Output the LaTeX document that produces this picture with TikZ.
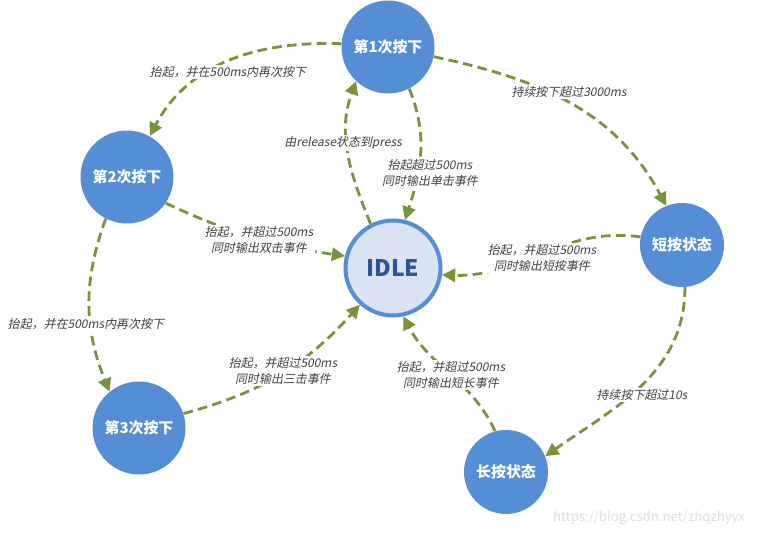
\documentclass[tikz,border=0pt]{standalone}
\usepackage{fontspec}
\setmainfont{Noto Sans CJK SC}[AutoFakeSlant=0.2]
\usetikzlibrary{arrows.meta}
\definecolor{stblue}{RGB}{85,142,213}
\definecolor{idlefill}{RGB}{218,227,243}
\definecolor{idletext}{RGB}{47,85,151}
\definecolor{trgreen}{RGB}{119,147,60}
\definecolor{lblgray}{RGB}{64,64,64}
\tikzset{
  state/.style  = {circle, fill=stblue, text=white, minimum size=1.86cm,
                   inner sep=0pt, font=\fontsize{8.5}{10}\selectfont\bfseries},
  sstate/.style = {state, minimum size=1.68cm},
  idle/.style   = {circle, draw=stblue, line width=2.3pt, fill=idlefill,
                   minimum size=1.9cm, inner sep=0pt, text=idletext,
                   font=\fontsize{13}{15}\selectfont\bfseries},
  tr/.style     = {draw=trgreen, line width=1.6pt, dash pattern=on 5.5pt off 3pt,
                   -{Triangle[length=7.5pt,width=7.5pt]}},
  lbl/.style    = {fill=white, text=lblgray, inner sep=1pt, align=center,
                   font=\fontsize{6.8}{9}\selectfont\itshape}
}

\begin{document}
\begin{tikzpicture}[x=0.02cm,y=0.02cm]
  \useasboundingbox (0,0) rectangle (764,537);
  % states
  \node[state]  (p1)   at (388,490) {第1次按下};
  \node[state]  (p2)   at (127,360) {第2次按下};
  \node[state]  (p3)   at (139,109) {第3次按下};
  \node[idle]   (idle) at (393,269) {IDLE};
  \node[sstate] (sp)   at (682,292) {短按状态};
  \node[sstate] (lp)   at (506,65)  {长按状态};
  % transitions
  \draw[tr] (p1.176)  to[out=178,in=62]  (p2.61);
  \draw[tr] (p2.243)  to[out=250,in=112] (p3.129);
  \draw[tr] (p2.-34)  to[out=-25,in=172] (idle.166);
  \draw[tr] (p3.18)   to[out=15,in=228]  (idle.228);
  \draw[tr] (idle.117) to[out=112,in=250] (p1.227);
  \draw[tr] (p1.-63)  to[out=-68,in=72]  (idle.76);
  \draw[tr] (p1.-12)  to[out=-12,in=118] (sp.112);
  \draw[tr] (sp.169)  to[out=172,in=-2]  (idle.-8);
  \draw[tr] (sp.-86)  to[out=-90,in=35]  (lp.22);
  \draw[tr] (lp.105)  to[out=115,in=-62] (idle.-78);
  % labels
  \node[lbl] (l12)  at (228,465) {抬起，并在500ms内再次按下};
  \node[lbl] (l23)  at (86,213)  {抬起，并在500ms内再次按下};
  \node[lbl] (l2i)  at (259,297) {抬起，并超过500ms\\同时输出双击事件};
  \node[lbl] (l3i)  at (283,166) {抬起，并超过500ms\\同时输出三击事件};
  \node[lbl] (li1)  at (343,394) {由release状态到press};
  \node[lbl] (l1i)  at (430,364) {抬起超过500ms\\同时输出单击事件};
  \node[lbl] (l1s)  at (569,445) {持续按下超过3000ms};
  \node[lbl] (lsi)  at (542,279) {抬起，并超过500ms\\同时输出短按事件};
  \node[lbl] (lsl)  at (642,142) {持续按下超过10s};
  \node[lbl] (lli)  at (451,162) {抬起，并超过500ms\\同时输出短长事件};
  \node[text=black!13, font=\fontsize{7.5}{9}\selectfont] (wm) at (649,19)
    {https://blog.csdn.net/zhqzhyyx};
\end{tikzpicture}
\end{document}
